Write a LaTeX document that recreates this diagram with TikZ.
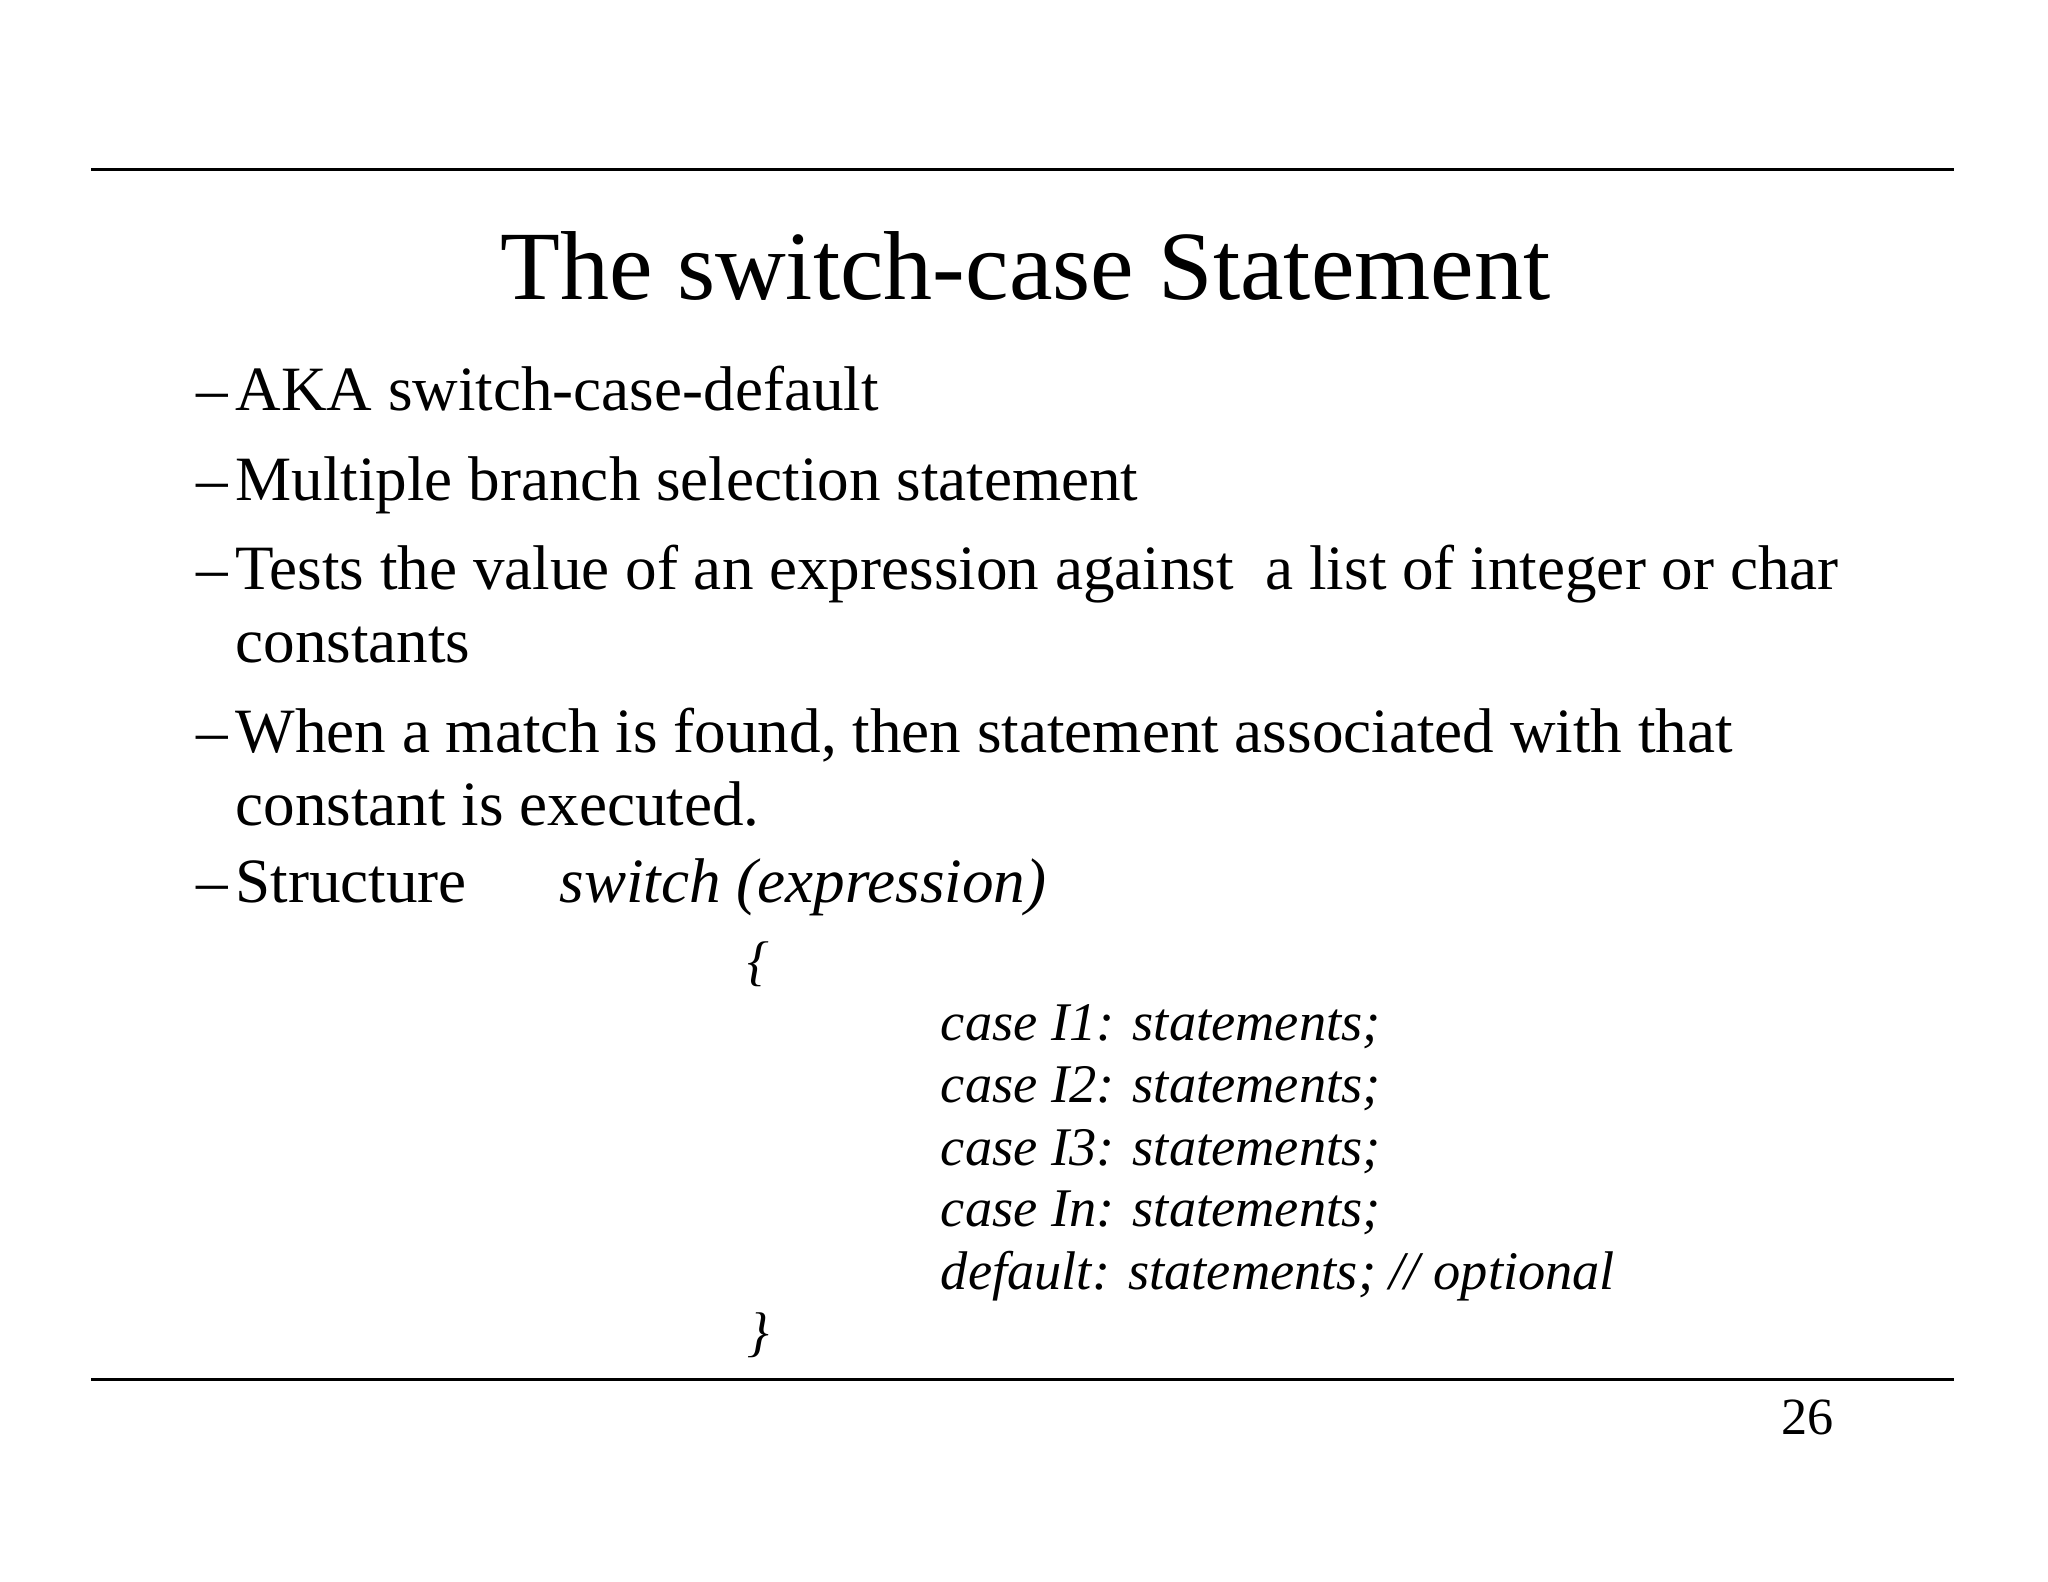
\documentclass[tikz,border=0pt]{standalone}
\usepackage{fontspec}
\setmainfont{Liberation Serif}
\begin{document}
\begin{tikzpicture}[x=0.6pt,y=-0.6pt,
  body/.style={anchor=base west,inner sep=0pt,font=\fontsize{29}{32}\selectfont},
  code/.style={anchor=base west,inner sep=0pt,font=\fontsize{25}{28}\selectfont\itshape},
  rule/.style={line width=1.3pt}]
\useasboundingbox (0,0) rectangle (1568,1211);
\coordinate (r1a) at (70,130); \coordinate (r1b) at (1496,130);
\coordinate (r2a) at (70,1056); \coordinate (r2b) at (1496,1056);
\draw[rule] (r1a) -- (r1b);
\draw[rule] (r2a) -- (r2b);
\node[anchor=base,inner sep=0pt,font=\fontsize{45}{50}\selectfont] (title) at (785,229) {The switch-case Statement};
\node[body] (d1) at (150,314) {–};\node[body] (l1) at (180,314) {AKA switch-case-default};
\node[body] (d2) at (150,383) {–};\node[body] (l2) at (180,383) {Multiple branch selection statement};
\node[body] (d3) at (150,451) {–};\node[body] (l3) at (180,451) {Tests the value of an expression against\ \ a list of integer or char};
\node[body] (l3b) at (180,507) {constants};
\node[body] (d4) at (150,576) {–};\node[body] (l4) at (180,576) {When a match is found, then statement associated with that};
\node[body] (l4b) at (180,632) {constant is executed.};
\node[body] (d5) at (150,691) {–};\node[body] (l5) at (180,691) {Structure};
\node[body,font=\fontsize{29}{32}\selectfont\itshape] (sw) at (428,691) {switch (expression)};
\node[code] (ob) at (572,750) {\{};
\node[code] (c1) at (720,797) {case I1: statements;};
\node[code] (c2) at (720,844) {case I2: statements;};
\node[code] (c3) at (720,892) {case I3: statements;};
\node[code] (c4) at (720,939) {case In: statements;};
\node[code] (c5) at (720,987) {default: statements; // optional};
\node[code] (cb) at (572,1034) {\}};
\node[anchor=base east,inner sep=0pt,font=\fontsize{24}{28}\selectfont] (pg) at (1404,1098) {26};
\end{tikzpicture}
\end{document}
